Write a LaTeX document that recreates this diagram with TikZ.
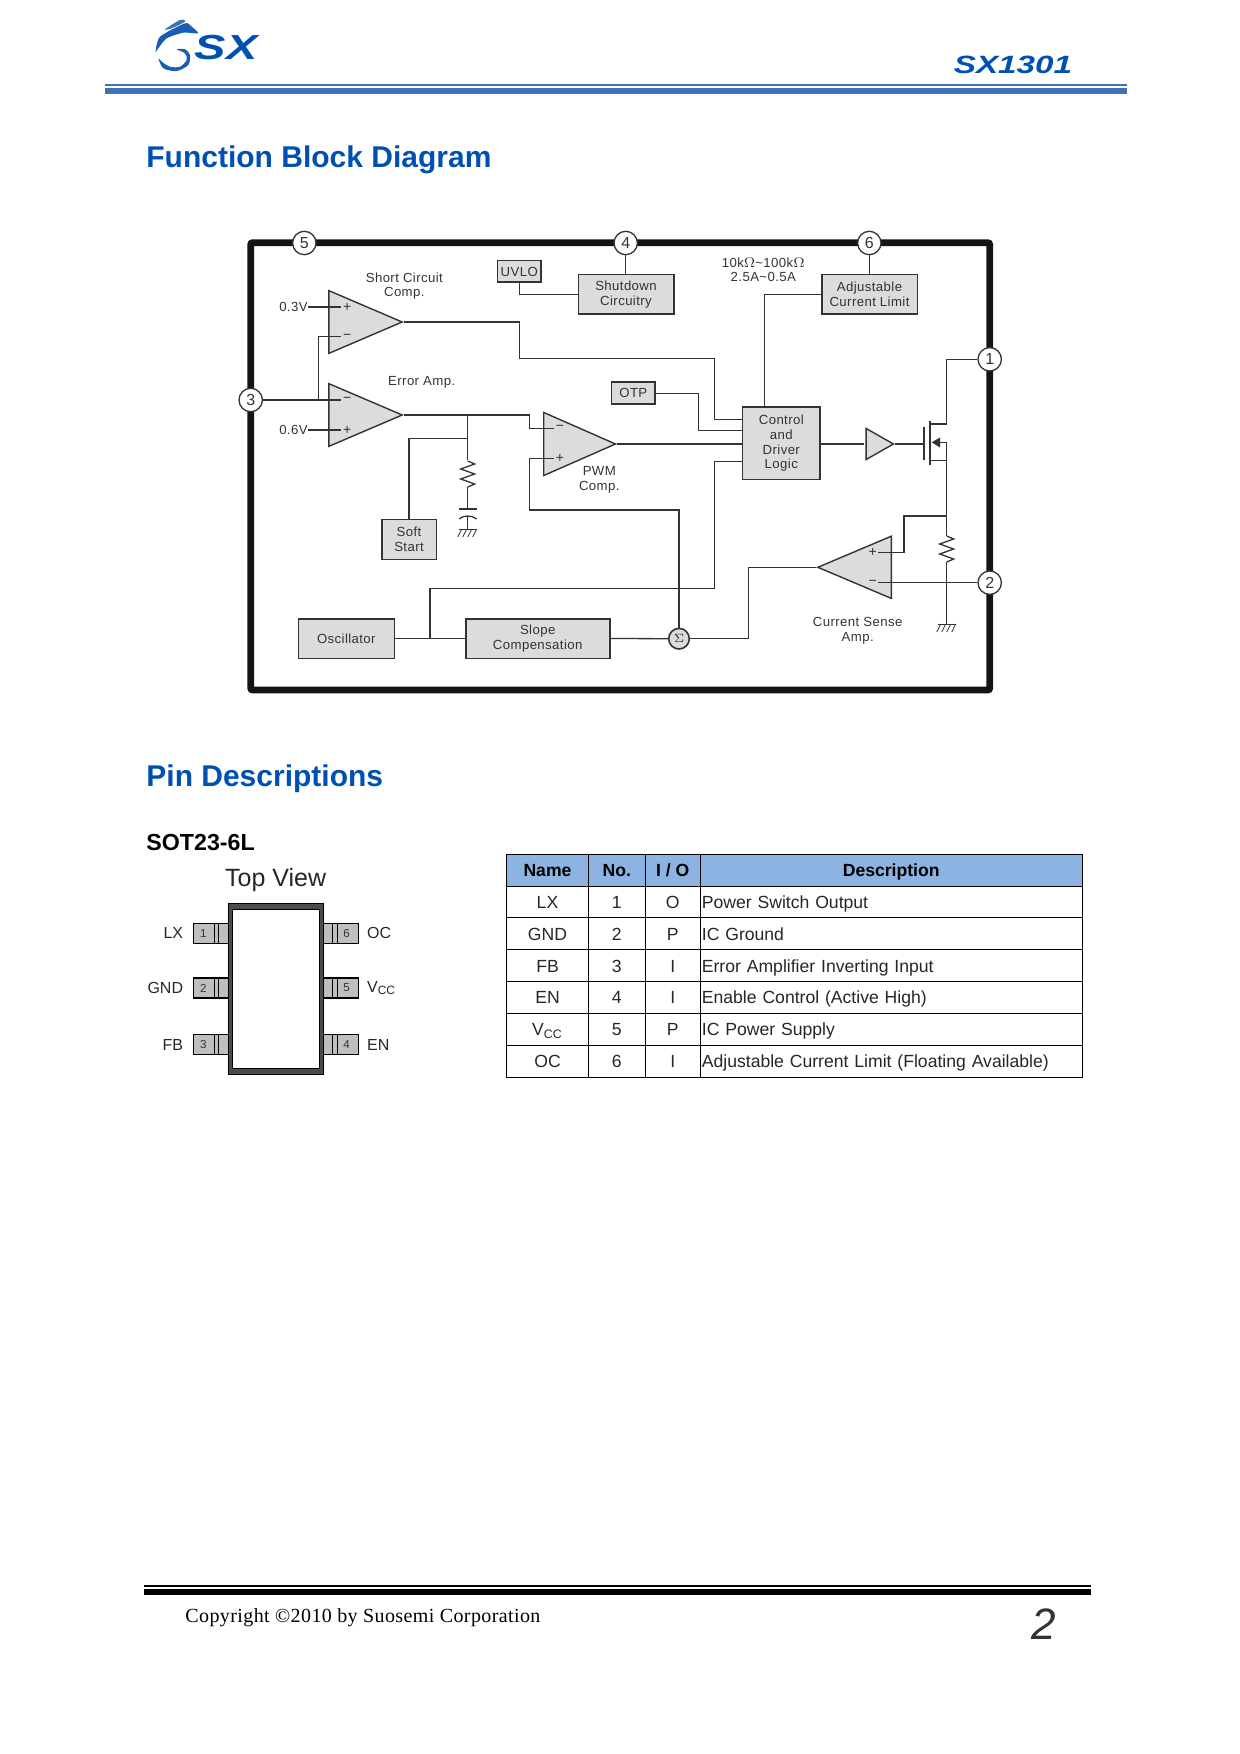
\documentclass[tikz,border=0pt]{standalone}
\usepackage{fontspec}
\usepackage{xcolor}
\usepackage{tikz}
\usetikzlibrary{shapes.geometric}
\setmainfont{Liberation Sans}
\newfontfamily\blockfont[LetterSpace=3]{Liberation Sans}
\newfontfamily\footfont[LetterSpace=2]{Liberation Serif}
\newcommand{\vcc}{V\textsubscript{CC}}

\begin{document}
\begin{tikzpicture}[
  x=0.5pt, y=-0.5pt,
  font=\fontsize{8}{9.5}\selectfont,
  wire/.style={line width=0.65pt, draw=lineGrey},
  box/.style={rectangle, draw=lineGrey, fill=boxGrey, line width=0.8pt, align=center,
    inner sep=0pt, text=lineGrey, font=\blockfont\fontsize{6.6}{7.35}\selectfont},
  amp/.style={isosceles triangle, isosceles triangle stretches, draw=lineGrey, fill=boxGrey,
    line width=0.7pt, inner sep=0pt, anchor=apex},
  note/.style={align=center, inner sep=0pt, text=lineGrey,
    font=\blockfont\fontsize{6.6}{7.35}\selectfont},
  sign/.style={inner sep=0pt, text=lineGrey, font=\fontsize{7}{7}\selectfont},
  pinmark/.style={circle, draw=lineGrey, fill=white, line width=0.65pt, minimum size=11.7pt,
    inner sep=0pt, text=lineGrey, font=\fontsize{8}{8}\selectfont},
  heading/.style={anchor=base west, inner sep=0pt, text=headBlue,
    font=\bfseries\fontsize{15}{15}\selectfont},
  legbox/.style={rectangle, draw=black, fill=legGrey, line width=0.6pt, minimum width=17.5pt,
    minimum height=10pt, inner sep=0pt},
  legno/.style={inner sep=0pt, text=lineGrey, font=\fontsize{5.8}{6}\selectfont},
  leglabel/.style={inner sep=0pt, text=black!85, font=\fontsize{8}{8}\selectfont},
  tcell/.style={rectangle, draw=black, line width=0.5pt, minimum height=15.93pt, inner sep=0pt,
    text height=6.3pt, text depth=0pt, text=black!85, font=\fontsize{8.8}{9}\selectfont},
  thead/.style={tcell, fill=tableBlue, text=black, font=\bfseries\fontsize{8.8}{9}\selectfont},
  ground/.pic={
    \draw[wire, line width=0.5pt] (-8.5,0) -- (8.5,0);
    \foreach \hx in {-6,-1,4,9} \draw[wire, line width=0.4pt] (\hx,0) -- (\hx-4,8);
  },
  resistor/.pic={
    \draw[wire] (0,0) -- (7,3) -- (-7,8) -- (7,13) -- (-7,18) -- (7,23) -- (0,26);
  },
]
\definecolor{lineGrey}{HTML}{333333}
\definecolor{boxGrey}{HTML}{DCDCDC}
\definecolor{legGrey}{HTML}{BFBFBF}
\definecolor{headBlue}{HTML}{0050B4}
\definecolor{ruleBlue}{HTML}{4070B5}
\definecolor{tableBlue}{HTML}{8DB3E2}
\definecolor{frameBlack}{HTML}{141414}
\useasboundingbox (0,0) rectangle (1240,1754);

% Page header and logo
\fill[ruleBlue] plot[smooth cycle, tension=0.5] coordinates
  {(165,29.3) (180,20) (185,21.7) (171.7,28.3)};
\fill[ruleBlue!40!headBlue] plot[smooth cycle, tension=0.4] coordinates
  {(155.5,52) (160,36.7) (185,23.3) (191.7,26.7) (198.3,33.3) (183.3,32.7) (166.7,38.3) (158.3,48.3)};
\fill[ruleBlue!40!headBlue] plot[smooth cycle, tension=0.5] coordinates
  {(158.3,58.3) (163.3,68.3) (176.7,71) (188.3,65) (190,55) (185,49.3) (176.7,49.3) (185,53.3)
   (186.7,60) (180,66.7) (170,66.7) (161.7,61.7)};
\node[inner sep=0pt, text=headBlue, font=\bfseries\itshape\fontsize{17.4}{17.4}\selectfont]
  (logotext) at (226,47.5) {\scalebox{1.35}[1]{SX}};
\node[inner sep=0pt, text=headBlue, font=\bfseries\itshape\fontsize{12.5}{12.5}\selectfont]
  (partno) at (1013,65) {\scalebox{1.33}[1]{SX1301}};
\fill[ruleBlue] (105,84) rectangle (1126.7,86.3);
\fill[ruleBlue] (105,88.3) rectangle (1126.7,94);
\node[heading] (titleblock) at (146,168) {Function Block Diagram};

% Outer frame first, the six pin marks sit on it
\draw[frameBlack, line width=3.4pt, rounded corners=1pt] (250.7,242.7) rectangle (989.7,690);
\node[pinmark] (p5) at (304.3,243) {5};
\node[pinmark] (p4) at (625.7,243) {4};
\node[pinmark] (p6) at (869.3,243) {6};
\node[pinmark] (p1) at (989.7,359.3) {1};
\node[pinmark] (p3) at (250.7,400) {3};
\node[pinmark] (p2) at (989.7,582.7) {2};

\node[box, minimum width=21.65pt, minimum height=10.8pt] (uvlo) at (519.3,271.5) {UVLO};
\node[box, minimum width=47.7pt, minimum height=19.8pt] (shutdown) at (626,294.5) {Shutdown\\Circuitry};
\node[box, minimum width=47.8pt, minimum height=19.8pt] (adjust) at (869.5,294.5) {Adjustable\\Current Limit};
\node[box, minimum width=21.65pt, minimum height=11pt] (otp) at (633.3,393.3) {OTP};
\node[box, minimum width=38.65pt, minimum height=36pt] (ctrl) at (781.3,443.3) {Control\\and\\Driver\\Logic};
\node[box, minimum width=27.3pt, minimum height=20pt] (soft) at (409,539.3) {Soft\\Start};
\node[box, minimum width=48pt, minimum height=19.8pt] (osc) at (346.3,638.5) {Oscillator};
\node[box, minimum width=72pt, minimum height=19.8pt] (slope) at (537.7,638.5) {Slope\\Compensation};
\node[box, circle, minimum size=10.3pt] (sum) at (679,638.7) {\fontsize{6}{6}\selectfont$\Sigma$};

\node[amp, minimum height=36.65pt, minimum width=31.35pt] (sccomp) at (404,322) {};
\node[amp, minimum height=36.65pt, minimum width=31.35pt] (erramp) at (404,415) {};
\node[amp, minimum height=35.85pt, minimum width=31.5pt] (pwm) at (617.3,444) {};
\node[amp, minimum height=13.65pt, minimum width=15.5pt] (buf) at (895.3,444) {};
\node[amp, shape border rotate=180, minimum height=36.8pt, minimum width=31.15pt] (csamp) at (816,567.3) {};

\coordinate (scplus) at (341.3,307);
\coordinate (scminus) at (341.3,336.7);
\coordinate (eaminus) at (341.3,400);
\coordinate (eaplus) at (341.3,430);
\coordinate (pwmminus) at (554.3,428.3);
\coordinate (pwmplus) at (554.3,458.7);
\coordinate (csplus) at (878.3,552.3);
\coordinate (csminus) at (878.3,582.7);
\coordinate (ctrlscp) at (742.7,419.3);
\coordinate (ctrlotp) at (742.7,430.7);
\coordinate (ctrllow) at (742.7,461.7);
\coordinate (ctrltop) at (764.7,407.3);
\coordinate (oscjoin) at (430,638.5);
\coordinate (eajoin) at (467.7,415);
\coordinate (fbjoin) at (318.7,400);
\coordinate (resa) at (467.7,460);
\coordinate (gate) at (924,444);
\coordinate (sense) at (946.7,516);

\node[note, anchor=east] (vref3) at (308,307) {0.3V};
\node[note, anchor=east] (vref6) at (308,430) {0.6V};
\node[note] (scname) at (404.3,286) {Short Circuit\\Comp.};
\node[note] (eaname) at (421.7,382.7) {Error Amp.};
\node[note] (pwmname) at (599.3,480) {PWM\\Comp.};
\node[note] (rangename) at (763.3,269.7) {10k$\Omega$\textasciitilde 100k$\Omega$\\2.5A\textasciitilde 0.5A};
\node[note] (csname) at (857.7,631) {Current Sense\\Amp.};
\foreach \sx/\sy/\st in {347.3/307/+, 347.3/336.7/−, 347.3/400/−, 347.3/430/+,
    560/428.3/−, 560/458.7/+, 872.7/552.3/+, 872.7/582.7/−}
  \node[sign] at (\sx,\sy) {\st};

% Signal paths
\draw[wire] (vref3) -- (scplus);
\draw[wire] (vref6) -- (eaplus);
\draw[wire] (p3) -- (eaminus);
\draw[wire] (fbjoin) |- (scminus);
\draw[wire] (sccomp.apex) -- (519.3,322) |- (714.3,358.3) |- (ctrlscp);
\draw[wire] (uvlo.south) |- (shutdown.west);
\draw[wire] (p4) -- (p4 |- shutdown.north);
\draw[wire] (p6) -- (p6 |- adjust.north);
\draw[wire] (adjust.west) -| (ctrltop);
\draw[wire] (otp.east) -- (698.3,393.3) |- (ctrlotp);
\draw[wire] (pwm.apex) -- (pwm.apex -| ctrl.west);
\draw[wire] (erramp.apex) -- (529.7,415) |- (pwmminus);
\draw[wire] (eajoin) -- (resa);
\draw[wire] (soft.north) |- (467.7,438.3);
\draw[wire] (sum.north) |- (529.7,510) |- (pwmplus);
\draw[wire] (ctrllow) -- (714.3,461.7) |- (430,588.3) -- (oscjoin);
\draw[wire] (osc.east) -- (slope.west);
\draw[wire] (slope.east) -- (sum.west);
\draw[wire] (sum.east) -- (748.3,638.7) |- (csamp.apex);
\draw[wire] (ctrl.east |- buf.west) -- (864.3,444);
\draw[wire] (buf.apex) -- (gate);
\draw[wire] (csminus) -- (p2);
\draw[wire] (csplus) -- (904,552.3) |- (sense);

% Compensation network
\pic at (467.7,461) {resistor};
\draw[wire] (467.7,487) -- (467.7,509);
\draw[wire] (459.3,509) -- (476.7,509);
\draw[wire] (459.3,519) .. controls (463,515) and (472,515) .. (476.7,519);
\draw[wire] (467.7,516) -- (467.7,529);
\pic at (467.7,529) {ground};

% Output transistor and current sense
\draw[wire, line width=1pt] (gate |- 0,426.7) -- (gate |- 0,460);
\draw[wire, line width=1pt] (930.3,420.7) -- (930.3,465);
\draw[wire] (930.3,424) -- (946.7,424) |- (p1);
\draw[wire] (930.3,460.7) -- (946.7,460.7);
\draw[wire] (938,442.3) -- (946.7,442.3) -- (sense);
\fill[lineGrey] (931.7,442.3) -- (940,437.5) -- (940,447.5) -- cycle;
\draw[wire] (sense) -- (946.7,536);
\pic at (946.7,536) {resistor};
\draw[wire] (946.7,562) -- (946.7,624);
\pic at (946.7,624) {ground};

% Pin descriptions
\node[heading] (titlepins) at (146,786) {Pin Descriptions};
\node[anchor=base west, inner sep=0pt, font=\bfseries\fontsize{11.6}{12}\selectfont]
  (package) at (146,850) {SOT23-6L};
\node[anchor=base, inner sep=0pt, text=black!85, font=\fontsize{12.5}{13}\selectfont]
  (topview) at (275.7,886.7) {Top View};

\foreach \no/\ly/\lab/\rno/\rlab in {1/933.3/LX/6/OC, 2/988/GND/5/\vcc, 3/1044.8/FB/4/EN}{
  \node[legbox] (legl\no) at (210.8,\ly) {};
  \node[legbox] (legr\rno) at (341,\ly) {};
  \draw[line width=0.4pt] (214.3,\ly-10) -- (214.3,\ly+10) (218.7,\ly-10) -- (218.7,\ly+10);
  \draw[line width=0.4pt] (332.7,\ly-10) -- (332.7,\ly+10) (337.3,\ly-10) -- (337.3,\ly+10);
  \node[legno] at (203.3,\ly) {\no};
  \node[legno] at (346.7,\ly) {\rno};
  \node[leglabel, anchor=east] at (183.5,\ly) {\lab};
  \node[leglabel, anchor=west] at (366.7,\ly) {\rlab};
}
\node[rectangle, draw=black, fill=black!70, line width=0.4pt, minimum width=47.5pt, minimum height=85.4pt,
  inner sep=0pt] (chip) at (275.8,988.7) {};
\node[rectangle, draw=black, fill=white, line width=0.6pt, minimum width=43.5pt, minimum height=79.5pt,
  inner sep=0pt] (chiptop) at (275.8,988.8) {};

% Pin table
\node[thead, minimum width=40.9pt] (hname) at (547.5,870.2) {Name};
\node[thead, minimum width=28.45pt] (hno) at (616.85,870.2) {No.};
\node[thead, minimum width=27.5pt] (hio) at (672.8,870.2) {I / O};
\node[thead, minimum width=190.85pt] (hdesc) at (891.2,870.2) {Description};
\foreach \ry/\nm/\no/\io/\desc in {
    902/LX/1/O/Power Switch Output,
    933.9/GND/2/P/IC Ground,
    965.7/FB/3/I/Error Amplifier Inverting Input,
    997.6/EN/4/I/Enable Control (Active High),
    1029.5/\vcc/5/P/IC Power Supply,
    1061.4/OC/6/I/Adjustable Current Limit (Floating Available)}{
  \node[tcell, minimum width=40.9pt] (name\no) at (547.5,\ry) {\nm};
  \node[tcell, minimum width=28.45pt] (no\no) at (616.85,\ry) {\no};
  \node[tcell, minimum width=27.5pt] (io\no) at (672.8,\ry) {\io};
  \node[tcell, text width=189.35pt, inner xsep=0.75pt, align=left] (desc\no) at (891.2,\ry) {\desc};
}

% Footer
\fill[black] (143.7,1585.3) rectangle (1091,1587);
\fill[black] (143.7,1589.3) rectangle (1091,1595);
\node[anchor=west, inner sep=0pt, font=\footfont\fontsize{10}{10}\selectfont] (copyright) at (185,1618)
  {Copyright ©2010 by Suosemi Corporation};
\node[inner sep=0pt, text=lineGrey, font=\itshape\fontsize{22}{22}\selectfont] (pageno) at (1044,1624) {2};
\end{tikzpicture}
\end{document}
